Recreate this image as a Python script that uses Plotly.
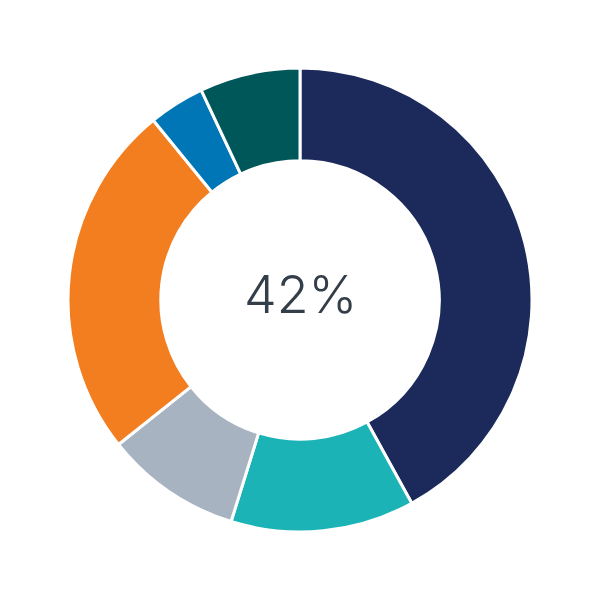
import plotly.graph_objects as go

# slice shares, clockwise from 12 o'clock
labels = ["Navy", "Teal", "Gray", "Orange", "Blue", "Green"]
values = [42.0, 12.8, 9.5, 24.8, 3.9, 7.0]
colors = ["#1B2A5B", "#1BB3B5", "#A8B3C1", "#F27E20", "#0076B6", "#00575A"]
center_label = "42%"

fig = go.Figure(go.Pie(
    labels=labels,
    values=values,
    hole=0.6,
    sort=False,
    direction="clockwise",
    rotation=0,
    marker=dict(colors=colors, line=dict(color="white", width=3)),
    textinfo="none",
    hoverinfo="label+percent",
))

fig.add_annotation(
    text=center_label, x=0.5, y=0.5, xref="paper", yref="paper",
    showarrow=False, yshift=6,
    font=dict(family="Inter", size=52, color="#333E48", weight=300),
)

# page body adds ~8px offset, so shift the domain up/left
fig.update_layout(
    width=600, height=600,
    showlegend=False,
    margin=dict(l=60, r=76, t=60, b=76),
    paper_bgcolor="white",
)

fig.write_html("out.html")
